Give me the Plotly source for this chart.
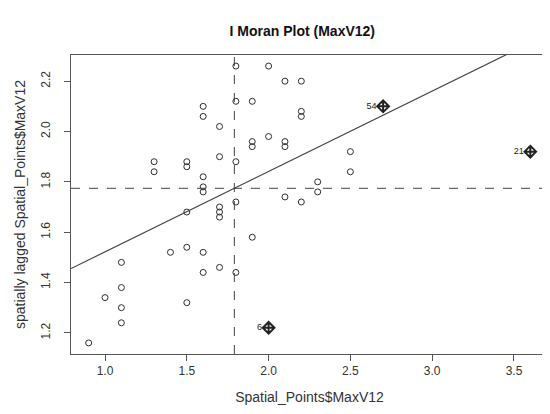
import numpy as np
import plotly.graph_objects as go

# valores
max_v12 = [0.9, 1.0, 1.1, 1.1, 1.1, 1.1, 1.3, 1.3, 1.4, 1.5, 1.5, 1.5, 1.5, 1.5,
           1.6, 1.6, 1.6, 1.6, 1.6, 1.6, 1.6, 1.7, 1.7, 1.7, 1.7, 1.7, 1.7,
           1.8, 1.8, 1.8, 1.8, 1.8, 1.9, 1.9, 1.9, 1.9, 2.0, 2.0, 2.0,
           2.1, 2.1, 2.1, 2.1, 2.2, 2.2, 2.2, 2.2, 2.3, 2.3, 2.5, 2.5, 2.7, 3.6]
lagged = [1.16, 1.34, 1.48, 1.38, 1.30, 1.24, 1.88, 1.84, 1.52, 1.88, 1.86, 1.68, 1.54, 1.32,
          2.10, 2.06, 1.82, 1.78, 1.76, 1.52, 1.44, 2.02, 1.90, 1.70, 1.68, 1.66, 1.46,
          2.26, 2.12, 1.88, 1.72, 1.44, 2.12, 1.96, 1.94, 1.58, 2.26, 1.98, 1.22,
          2.20, 1.96, 1.94, 1.74, 2.20, 2.08, 2.06, 1.72, 1.80, 1.76, 1.92, 1.84, 2.10, 1.92]

# puntos influyentes (x, y, etiqueta)
infl_x = [2.0, 2.7, 3.6]
infl_y = [1.22, 2.10, 1.92]
infl_lab = ["6", "54", "21"]

x_ticks = [1.0, 1.5, 2.0, 2.5, 3.0, 3.5]
y_ticks = [1.2, 1.4, 1.6, 1.8, 2.0, 2.2]

x = np.array(max_v12)
y = np.array(lagged)
infl = list(zip(infl_x, infl_y))
normal = [(a, b) for a, b in zip(max_v12, lagged) if (a, b) not in infl]

def rango(v):
    lo, hi = min(v), max(v)
    d = (hi - lo) * 0.04
    return [lo - d, hi + d]

rx = rango(max_v12)
ry = rango(lagged)

pend, inter = np.polyfit(x, y, 1)

gris = "#2e2e2e"
fig = go.Figure()

fig.add_trace(go.Scatter(
    x=[p[0] for p in normal], y=[p[1] for p in normal],
    mode="markers",
    marker=dict(symbol="circle-open", size=6, color=gris, line=dict(width=1, color=gris))))

fig.add_trace(go.Scatter(
    x=infl_x, y=infl_y, mode="markers+text",
    text=infl_lab, textposition="middle left",
    textfont=dict(family="Liberation Sans", size=9, color="#222"),
    marker=dict(symbol="diamond-cross-open", size=9, color="#222", line=dict(width=2, color="#222"))))

fig.add_trace(go.Scatter(
    x=[rx[0], rx[1]], y=[inter + pend * rx[0], inter + pend * rx[1]],
    mode="lines", line=dict(color="#444", width=1.2)))

fig.add_vline(x=x.mean(), line=dict(color="#444", width=1, dash="dash"))
fig.add_hline(y=y.mean(), line=dict(color="#444", width=1, dash="dash"))

fig.update_layout(
    width=550, height=414,
    margin=dict(l=63, r=10, t=47, b=68),
    plot_bgcolor="white", paper_bgcolor="white",
    showlegend=False,
    font=dict(family="Liberation Sans", size=12, color="#333"),
    title=dict(text="<b>I Moran Plot (MaxV12)</b>", x=0.535, xanchor="center", y=0.955,
               font=dict(size=14, color="#111")),
)
fig.update_xaxes(
    range=rx, tickvals=x_ticks, tickformat=".1f", showgrid=False, zeroline=False,
    showline=True, mirror=True, linecolor="#555", linewidth=1,
    ticks="outside", ticklen=6, tickcolor="#555",
    title=dict(text="Spatial_Points$MaxV12", standoff=14))
fig.update_yaxes(
    range=ry, tickvals=y_ticks, tickformat=".1f", showgrid=False, zeroline=False,
    showline=True, mirror=True, linecolor="#555", linewidth=1,
    ticks="outside", ticklen=6, tickcolor="#555", tickangle=-90, ticklabelstandoff=9,
    title=dict(text="spatially lagged Spatial_Points$MaxV12", standoff=10))

fig.write_html("out.html")
